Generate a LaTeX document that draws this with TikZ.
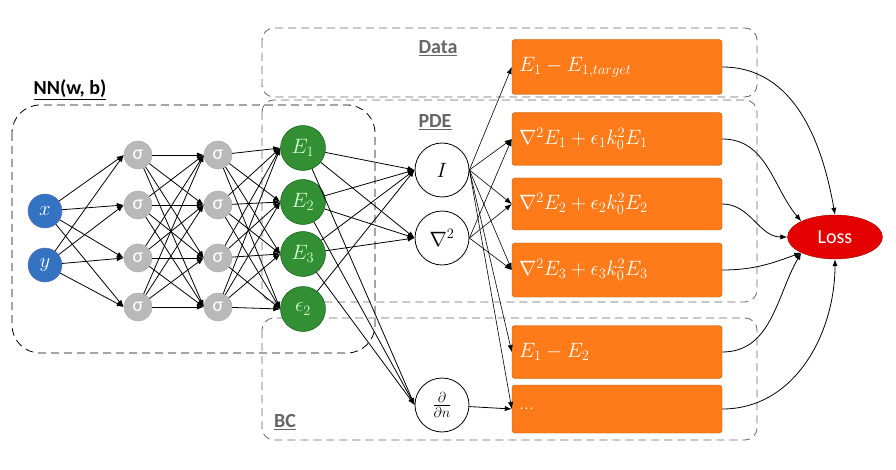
\documentclass[tikz,border=0pt]{standalone}
\usepackage{fontspec}
\setsansfont{Carlito}
\usetikzlibrary{arrows.meta,shapes.geometric}
\begin{document}
\begin{tikzpicture}[x=1pt,y=-1pt,
  inp/.style={circle,fill=blue!55!cyan!70!black!80,draw=blue!50!black!60,minimum size=34pt,inner sep=0pt,text=white,font=\fontsize{20}{22}\selectfont},
  sig/.style={circle,fill=gray!55,draw=gray!70,minimum size=28pt,inner sep=0pt,text=white,font=\fontsize{20}{22}\selectfont\sffamily},
  outn/.style={circle,fill=green!45!black!80,draw=green!30!black,minimum size=45pt,inner sep=0pt,text=green!15,font=\fontsize{22}{24}\selectfont},
  op/.style={circle,draw=black,thick,fill=white,minimum size=54pt,inner sep=0pt,font=\fontsize{21}{24}\selectfont},
  box/.style={rectangle,rounded corners=3pt,fill=orange!85!red!90,draw=orange!70!black,minimum width=210pt,inner sep=0pt,text=white,font=\fontsize{20}{22}\selectfont,text width=196pt,align=left},
  grp/.style={draw=gray!80!black,dashed,thick,rounded corners=12pt,dash pattern=on 8pt off 5pt},
  lbl/.style={font=\fontsize{20}{22}\selectfont\sffamily\bfseries,text=gray!80!black},
  ar/.style={-{Latex[length=7pt]},thick},
  ar2/.style={-{Latex[length=7pt]},semithick}]
\useasboundingbox (0,0) rectangle (896,470);
\fill[white] (0,0) rectangle (896,470);
% groups
\draw[grp] (262,28) rectangle (757,97);
\draw[grp] (262,100) rectangle (757,302);
\draw[grp] (262,318) rectangle (757,440);
\draw[thick,dashed,dash pattern=on 8pt off 5pt,rounded corners=28pt] (12,105) rectangle (375,353);
\node[lbl] (ldata) at (438,48) {\underline{Data}};
\node[lbl] (lpde) at (435,122) {\underline{PDE}};
\node[lbl] (lbc) at (285,422) {\underline{BC}};
\node[font=\fontsize{20}{22}\selectfont\sffamily\bfseries] (lnn) at (70,90) {\underline{NN(w, b)}};
% nodes
\node[inp] (x) at (45,211) {$x$};
\node[inp] (y) at (45,265) {$y$};
\foreach \i/\yy in {1/155,2/205,3/258,4/307}{
  \node[sig] (a\i) at (138,\yy) {σ};
  \node[sig] (b\i) at (218,\yy) {σ};}
\node[outn] (o1) at (303,148) {$E_1$};
\node[outn] (o2) at (303,202) {$E_2$};
\node[outn] (o3) at (303,254) {$E_3$};
\node[outn] (o4) at (303,309) {$\epsilon_2$};
\node[op] (pI) at (442,170) {$I$};
\node[op] (pL) at (442,238) {$\nabla^2$};
\node[op] (pN) at (442,405) {$\frac{\partial}{\partial n}$};
\node[box,minimum height=55pt] (r1) at (617,67) {$E_1-E_{1,target}$};
\node[box,minimum height=53pt] (r2) at (617,139) {$\nabla^2E_1+\epsilon_1k_0^2E_1$};
\node[box,minimum height=52pt] (r3) at (617,204) {$\nabla^2E_2+\epsilon_2k_0^2E_2$};
\node[box,minimum height=54pt] (r4) at (617,270) {$\nabla^2E_3+\epsilon_3k_0^2E_3$};
\node[box,minimum height=53pt] (r5) at (617,352) {$E_1-E_2$};
\node[box,minimum height=48pt] (r6) at (617,409) {...};
\node[ellipse,fill=red!90!black,draw=red!60!black,minimum width=95pt,minimum height=44pt,text=white,font=\fontsize{20}{22}\selectfont\sffamily] (loss) at (835,237) {Loss};
% edges
\foreach \s in {x,y}{\foreach \i in {1,...,4}{\draw[ar] (\s) -- (a\i.west);}}
\foreach \i in {1,...,4}{\foreach \j in {1,...,4}{\draw[ar] (a\i) -- (b\j.west);}}
\foreach \i in {1,...,4}{\foreach \j in {1,...,4}{\draw[ar] (b\i) -- (o\j.west);}}
\foreach \i in {1,2,3}{\draw[ar] (o\i) -- (pI.west); \draw[ar] (o\i) -- (pL.west); \draw[ar] (o\i) -- (pN.west);}
\draw[ar] (o4) -- (pI.west);
\foreach \r in {r1,r2,r3,r4,r5,r6}{\draw[ar2] (pI.east) -- (\r.west);}
\foreach \r in {r2,r3,r4}{\draw[ar2] (pL.east) -- (\r.west);}
\draw[ar] (pN) -- (r6.west);
\draw[ar] (r1.east) to[out=0,in=100] (loss.north);
\draw[ar] (r2.east) to[out=0,in=130] (loss.north west);
\draw[ar] (r3.east) to[out=0,in=180] (loss.west);
\draw[ar] (r4.east) to[out=0,in=200] (loss.south west);
\draw[ar] (r5.east) to[out=0,in=240] (loss.south west);
\draw[ar] (r6.east) to[out=0,in=270] (loss.south);
\end{tikzpicture}
\end{document}
